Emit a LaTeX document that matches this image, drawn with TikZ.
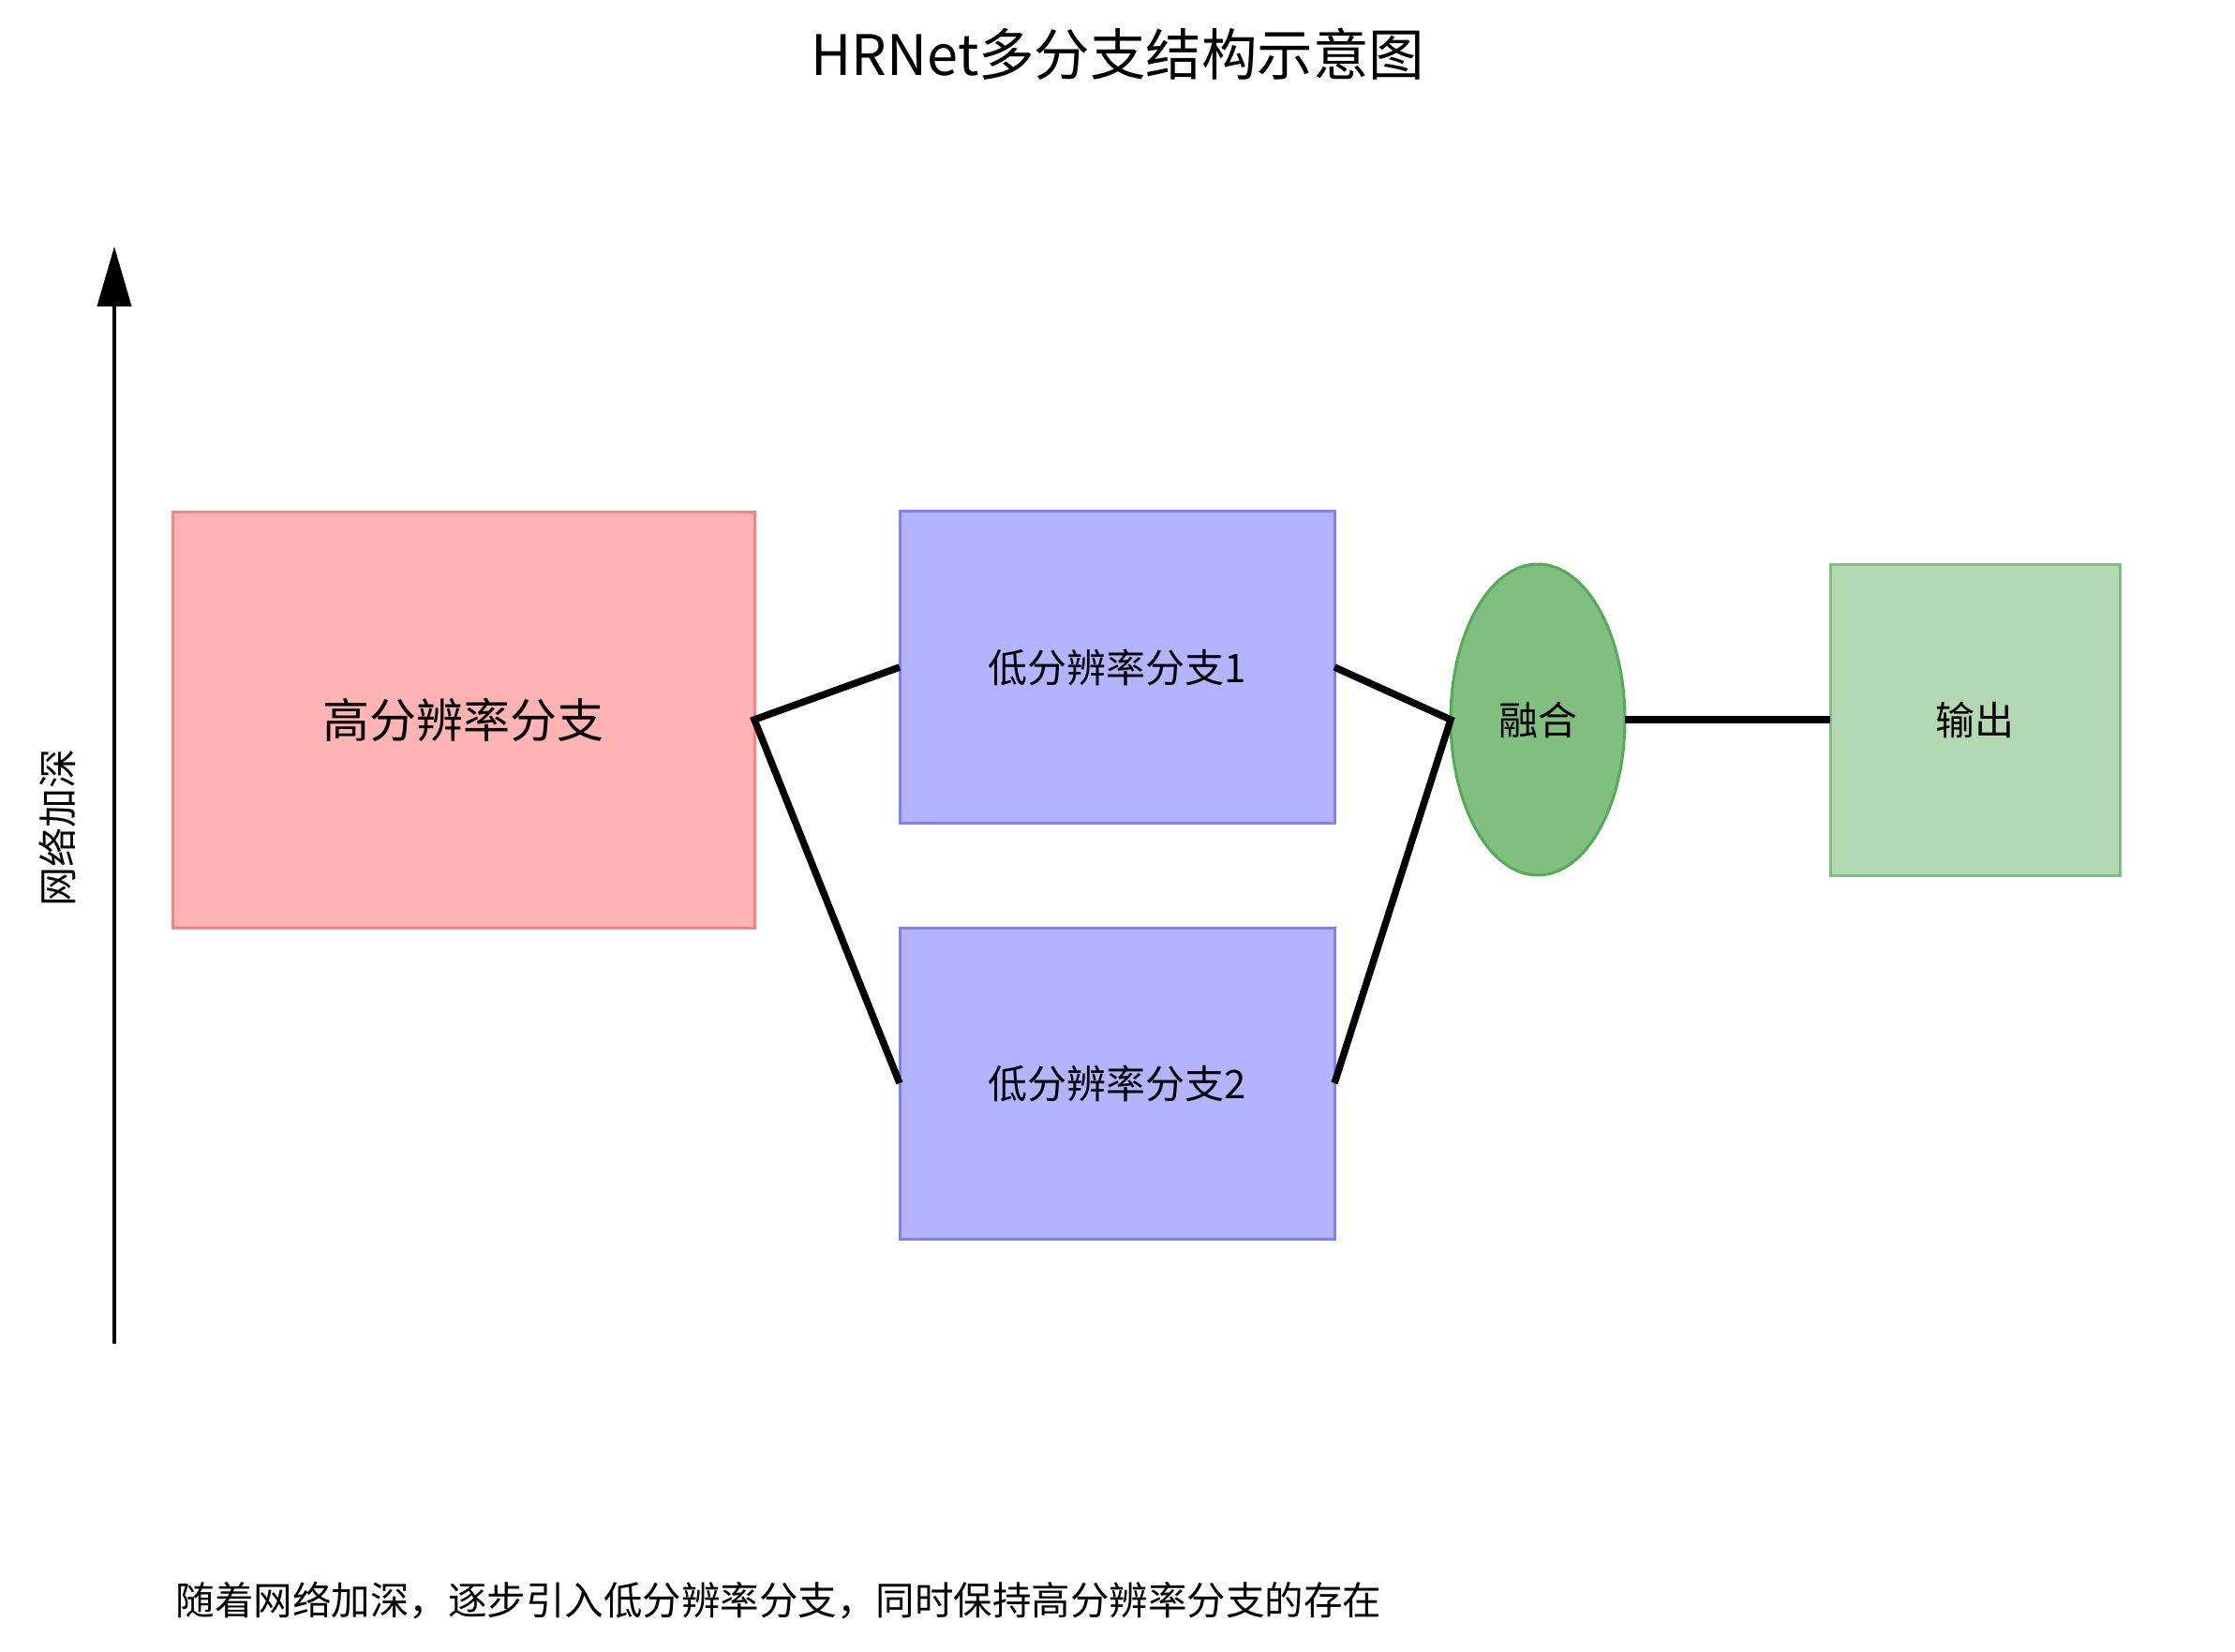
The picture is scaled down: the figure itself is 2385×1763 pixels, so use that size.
\documentclass[tikz,border=0pt]{standalone}
\usepackage{fontspec}
\setmainfont{Noto Sans CJK SC}
\usetikzlibrary{arrows.meta,shapes.geometric}
\definecolor{redfill}{HTML}{FFB3B3}
\definecolor{reddraw}{HTML}{FF8080}
\definecolor{bluefill}{HTML}{B3B3FF}
\definecolor{bluedraw}{HTML}{8080FF}
\definecolor{fusefill}{HTML}{80BF80}
\definecolor{fusedraw}{HTML}{55AA55}
\definecolor{outfill}{HTML}{B3D9B3}
\definecolor{outdraw}{HTML}{80BF80}
\tikzset{
  box/.style={rectangle, inner sep=0pt, outer sep=0pt, line width=3pt, align=center},
  smalltext/.style={font=\fontsize{42}{50}\selectfont},
  conn/.style={line width=7.5pt, black},
}
\begin{document}
\begin{tikzpicture}[x=1pt,y=-1pt]
\useasboundingbox (0,0) rectangle (2385,1763);
% title
\node[font=\fontsize{59.5}{70}\selectfont] (title) at (1193,58) {HRNet多分支结构示意图};
% depth arrow
\coordinate (abot) at (122,1434);
\coordinate (atop) at (122,263);
\draw[line width=4pt,-{Triangle[width=36pt,length=64pt]}] (abot) -- (atop);
\node[smalltext, rotate=90] (depth) at (61,883) {网络加深};
% boxes
\node[box, fill=redfill, draw=reddraw, minimum width=621pt, minimum height=444pt,
      font=\fontsize{50}{60}\selectfont] (high) at (494.5,768) {高分辨率分支};
\node[box, fill=bluefill, draw=bluedraw, minimum width=464pt, minimum height=333pt, smalltext] (low1) at (1192,712) {低分辨率分支1};
\node[box, fill=bluefill, draw=bluedraw, minimum width=464pt, minimum height=332pt, smalltext] (low2) at (1192,1156) {低分辨率分支2};
\node[ellipse, inner sep=0pt, outer sep=0pt, line width=3pt, fill=fusefill, draw=fusedraw, minimum width=186pt, minimum height=332pt, smalltext] (fuse) at (1641,768) {融合};
\node[box, fill=outfill, draw=outdraw, minimum width=309pt, minimum height=332pt, smalltext] (out) at (2107.5,768) {输出};
% connectors
\draw[conn] (low1.west) -- (high.east) -- (low2.west);
\draw[conn] (low1.east) -- (fuse.west) -- (low2.east);
\draw[conn] (fuse.east) -- (out.west);
% caption
\node[font=\fontsize{41.5}{50}\selectfont, anchor=west] (caption) at (184,1708) {随着网络加深，逐步引入低分辨率分支，同时保持高分辨率分支的存在};
\end{tikzpicture}
\end{document}
